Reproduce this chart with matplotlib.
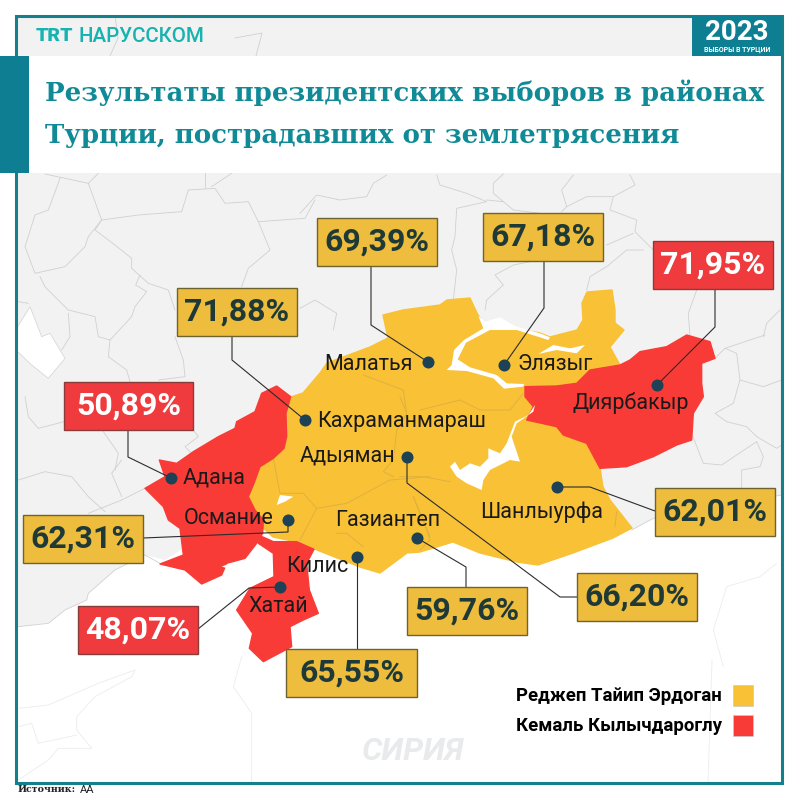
import matplotlib
matplotlib.use('Agg')
import matplotlib.pyplot as plt
from matplotlib.patches import Polygon, Rectangle

plt.rcParams['font.family'] = ['Roboto', 'DejaVu Sans']

YELLOW = '#f8c136'
RED = '#f93b37'
BOX_YELLOW = '#eebd3d'
BOX_RED = '#ef3b3d'
TEAL = '#0e7f93'
DARK = '#1f3a36'

# results, one entry per province
PROVINCES = ['Малатья', 'Элязыг', 'Диярбакыр', 'Кахраманмараш', 'Адана', 'Османие',
             'Хатай', 'Килис', 'Газиантеп', 'Адыяман', 'Шанлыурфа']
PERCENTS = ['69,39%', '67,18%', '71,95%', '71,88%', '50,89%', '62,31%',
            '48,07%', '65,55%', '59,76%', '66,20%', '62,01%']
WINNERS = ['E', 'E', 'K', 'E', 'K', 'E', 'K', 'E', 'E', 'E', 'E']
LEGEND_NAMES = ['Реджеп Тайип Эрдоган', 'Кемаль Кылычдароглу']

# label boxes: left, top, right, bottom in image pixels
BOXES = [(317, 218, 437, 266), (483, 213, 603, 261), (653, 241, 773, 289),
         (177, 288, 297, 336), (64, 382, 193, 430), (23, 515, 143, 563),
         (78, 606, 198, 654), (286, 649, 417, 697), (407, 587, 527, 635),
         (577, 573, 697, 621), (655, 488, 775, 536)]
LEADERS = [[(371, 266), (371, 325), (428, 362)],
           [(544, 261), (544, 308), (504, 365)],
           [(715, 289), (715, 327), (657, 385)],
           [(232, 336), (232, 360), (305, 420)],
           [(128, 430), (128, 457), (171, 478)],
           [(143, 538), (288, 532), (288, 520)],
           [(198, 629), (249, 588), (280, 587)],
           [(357, 648), (357, 557)],
           [(466, 587), (466, 567), (417, 538)],
           [(577, 597), (560, 597), (407, 483), (407, 457)],
           [(655, 511), (590, 487), (557, 487)]]
NAME_POS = [(369, 364, 'center'), (517, 364, 'left'), (631, 403, 'center'), (317, 421, 'left'),
            (183, 478, 'left'), (184, 519, 'left'), (278, 606, 'center'), (317, 566, 'center'),
            (388, 520, 'center'), (347, 456, 'center'), (542, 512, 'center')]


def crop(x0, y0, pts):
    return [(x0 + x / 3, y0 + y / 3) for x, y in pts]


LAND = [(17, 16), (782, 16), (782, 495), (653, 518), (632, 530), (400, 480), (260, 500),
        (165, 560), (145, 555), (115, 570), (88, 593), (87, 600), (65, 610), (48, 623), (17, 627)]
TUZ_LAKE = crop(15, 170, [(8, 470), (45, 410), (80, 500), (105, 490), (150, 565), (100, 625),
                          (50, 585), (8, 545)])

YELLOW_AREA = [(291, 397), (303, 393), (320, 373), (327, 363), (370, 347), (388, 338), (383, 315),
               (403, 310), (440, 305), (447, 300), (470, 298), (477, 313), (485, 327), (513, 328),
               (540, 333), (550, 337), (577, 330), (583, 320), (582, 303), (587, 292), (612, 290),
               (615, 310), (615, 323), (624, 330), (610, 347), (620, 365), (590, 370), (577, 383),
               (557, 387), (525, 387), (525, 397), (533, 407), (527, 420), (557, 427), (563, 435),
               (587, 443), (600, 468), (603, 487), (610, 500), (632, 528), (613, 538), (573, 553),
               (538, 565), (517, 562), (480, 553), (453, 542), (420, 552), (407, 553), (380, 573),
               (360, 567), (317, 550), (297, 542), (273, 537), (263, 528), (255, 510), (248, 497),
               (254, 483), (260, 467), (273, 458), (284, 448), (287, 436), (286, 413)]
ADANA_AREA = crop(130, 280, [(440, 318), (482, 350), (468, 400), (470, 470), (462, 505), (430, 535),
                             (390, 560), (372, 610), (355, 650), (375, 690), (400, 720), (398, 760),
                             (380, 790), (345, 835), (290, 850), (275, 885), (215, 912), (165, 870),
                             (90, 852), (160, 825), (150, 745), (115, 720), (100, 680), (45, 625),
                             (105, 590), (88, 540), (140, 550), (190, 515), (265, 470), (315, 445),
                             (320, 425), (375, 395), (395, 340)])
HATAY_AREA = crop(130, 280, [(385, 765), (430, 785), (500, 785), (552, 808), (530, 850), (538, 930),
                             (565, 1000), (520, 1020), (480, 1040), (485, 1100), (400, 1145),
                             (358, 1105), (368, 1060), (320, 990), (360, 925), (432, 890),
                             (430, 820), (385, 790)])
DIYARBAKIR_AREA = crop(400, 280, [(375, 320), (470, 318), (530, 310), (570, 270), (660, 255),
                                  (690, 240), (720, 215), (800, 200), (860, 165), (930, 185),
                                  (945, 235), (905, 250), (905, 310), (910, 350), (880, 400),
                                  (875, 480), (830, 495), (760, 530), (680, 560), (600, 565),
                                  (560, 490), (490, 465), (470, 440), (380, 420), (400, 380),
                                  (375, 350)])
LAKES = [crop(400, 280, [(235, 108), (255, 125), (300, 112), (345, 138), (420, 160), (450, 172),
                         (445, 180), (350, 150), (270, 150), (198, 188), (173, 238), (210, 262),
                         (290, 285), (320, 310), (372, 312), (370, 320), (312, 326), (280, 295),
                         (200, 273), (140, 270), (155, 255), (162, 210), (192, 180), (250, 145)]),
         crop(400, 280, [(415, 222), (460, 195), (510, 205), (555, 195), (530, 220), (470, 210)]),
         crop(400, 280, [(150, 560), (170, 590), (200, 610), (245, 630), (250, 600), (270, 570),
                         (330, 540), (360, 545), (345, 500), (335, 470), (350, 430), (400, 395),
                         (405, 375), (385, 405), (345, 425), (320, 490), (300, 520), (265, 505),
                         (265, 535), (240, 560), (210, 550), (180, 570), (165, 545)]),
         crop(130, 280, [(440, 675), (450, 645), (490, 650), (465, 665)]),
         crop(130, 280, [(275, 860), (300, 850), (295, 865)])]

GREY_BORDERS = [
    crop(15, 170, [(135, 25), (100, 120), (60, 135), (30, 230), (60, 310), (150, 290), (210, 230),
                   (220, 200), (260, 150)]),
    crop(15, 170, [(90, 12), (220, 40), (260, 150), (240, 180), (300, 225), (350, 265), (350, 295),
                   (400, 340), (460, 360), (480, 420)]),
    crop(15, 170, [(220, 40), (250, 10)]),
    crop(15, 170, [(260, 150), (370, 135), (500, 125), (520, 60), (600, 55), (630, 100), (700, 95),
                   (730, 155), (870, 145), (900, 90)]),
    crop(15, 170, [(730, 155), (765, 240), (700, 295), (680, 350)]),
    crop(15, 170, [(570, 10), (570, 55)]),
    crop(15, 170, [(650, 10), (590, 50)]),
    crop(15, 170, [(75, 320), (90, 350), (160, 420), (240, 440), (250, 500), (285, 510), (280, 560),
                   (335, 600), (345, 635)]),
    crop(15, 170, [(375, 315), (362, 345), (395, 365), (360, 410), (350, 440), (285, 510)]),
    crop(15, 170, [(480, 500), (505, 570), (510, 620), (430, 630)]),
    crop(15, 170, [(40, 400), (10, 395)]),
    crop(15, 170, [(160, 430), (165, 500), (140, 540)]),
    crop(15, 170, [(30, 680), (40, 740), (70, 775), (147, 755)]),
    crop(15, 170, [(535, 780), (550, 800), (510, 830), (530, 850)]),
    crop(15, 170, [(265, 785), (310, 850), (300, 900)]),
    crop(300, 170, [(0, 130), (50, 75), (120, 90), (200, 80), (220, 40), (260, 15)]),
    crop(300, 170, [(410, 15), (420, 45), (500, 70), (560, 95), (470, 115), (465, 200), (455, 240),
                    (470, 300), (460, 390)]),
    crop(300, 170, [(560, 90), (610, 95), (640, 120), (720, 130)]),
    crop(300, 170, [(610, 12), (580, 40), (580, 70), (610, 95)]),
    crop(300, 170, [(820, 15), (785, 60), (800, 110), (785, 125)]),
    crop(300, 170, [(800, 110), (860, 80), (940, 80), (1005, 45), (990, 15)]),
    crop(300, 170, [(940, 80), (930, 120), (1010, 150), (1005, 185), (1060, 240)]),
    crop(300, 170, [(1000, 190), (920, 225)]),
    crop(300, 170, [(1030, 240), (980, 240), (920, 290), (870, 320), (860, 360)]),
    crop(300, 170, [(690, 275), (640, 285), (585, 315), (610, 345), (560, 390), (555, 420)]),
    crop(300, 170, [(1190, 360), (1165, 430), (1170, 500)]),
    crop(300, 170, [(0, 415), (45, 390), (110, 430), (100, 480)]),
    crop(300, 170, [(1440, 420), (1400, 460), (1390, 500)]),
    crop(600, 330, [(345, 85), (375, 55), (410, 70), (420, 150), (490, 170), (545, 150)]),
    crop(600, 330, [(420, 150), (400, 220), (345, 250), (380, 275), (440, 290), (470, 320),
                    (530, 355), (545, 345)]),
    crop(600, 330, [(275, 310), (310, 400), (365, 405), (470, 335), (490, 380), (480, 410),
                    (425, 420), (425, 475)]),
    crop(600, 330, [(375, 55), (495, 15)]),
    crop(15, 460, [(10, 60), (90, 35), (170, 50), (220, 110), (270, 155)]),
    crop(15, 460, [(320, 0), (290, 40), (320, 110)]),
    crop(15, 460, [(220, 160), (320, 120), (390, 85)]),
    crop(15, 460, [(10, 500), (100, 490), (150, 450), (215, 420), (220, 400), (300, 330), (390, 285),
                   (435, 310)]),
    crop(600, 330, [(95, 600), (160, 565), (545, 495)]),
    # strip behind the logo line
    [(115, 16), (118, 38), (110, 56)],
    [(235, 38), (262, 33), (256, 56)],
]
FAINT_BORDERS = [
    crop(15, 460, [(10, 745), (100, 735), (250, 670), (360, 630), (350, 650), (240, 710), (185, 770),
                   (185, 810), (230, 865), (130, 865), (100, 900), (10, 960)]),
    crop(15, 460, [(10, 800), (50, 790), (70, 850), (185, 825)]),
    crop(15, 460, [(680, 590), (655, 680), (710, 760), (710, 965)]),
    crop(600, 330, [(530, 700), (480, 740), (380, 770), (340, 900), (370, 1010)]),
    [(712, 660), (708, 783)],
]
YELLOW_BORDERS = [
    crop(130, 280, [(700, 285), (820, 330), (830, 400), (800, 450), (790, 540), (760, 575), (790, 590)]),
    crop(130, 280, [(430, 535), (450, 640), (520, 640), (560, 685), (510, 780)]),
    crop(130, 280, [(560, 685), (650, 670), (780, 600), (900, 590)]),
    crop(130, 280, [(620, 760), (650, 760), (700, 800)]),
    crop(130, 280, [(850, 650), (870, 700), (900, 770)]),
    crop(400, 280, [(0, 350), (20, 400), (0, 440)]),
    crop(400, 280, [(60, 390), (180, 360), (240, 390), (330, 390), (370, 340)]),
    crop(400, 280, [(0, 590), (70, 590), (150, 605)]),
    crop(400, 280, [(40, 650), (70, 720), (90, 780), (60, 810)]),
    crop(400, 280, [(650, 695), (645, 740)]),
]


def draw_lines(ax, lines, color, lw, z):
    for line in lines:
        ax.plot([p[0] for p in line], [p[1] for p in line], color=color, lw=lw, zorder=z,
                solid_joinstyle='round')


fig = plt.figure(figsize=(8, 8), dpi=100)
ax = fig.add_axes([0, 0, 1, 1])
ax.set_xlim(0, 800)
ax.set_ylim(800, 0)
ax.axis('off')

# map background
ax.add_patch(Polygon(LAND, fc='#f2f2f2', ec='none', zorder=1))
ax.add_patch(Polygon(TUZ_LAKE, fc='white', ec='#d2d2d2', lw=0.5, zorder=2))
draw_lines(ax, GREY_BORDERS, '#d0d0d0', 0.6, 2)
draw_lines(ax, FAINT_BORDERS, '#ececec', 0.6, 2)

# provinces
ax.add_patch(Polygon(YELLOW_AREA, fc=YELLOW, ec=YELLOW, lw=1, joinstyle='round', zorder=3))
draw_lines(ax, YELLOW_BORDERS, '#dfb13f', 0.7, 3.5)
for area in [ADANA_AREA, HATAY_AREA, DIYARBAKIR_AREA]:
    ax.add_patch(Polygon(area, fc=RED, ec=RED, lw=1, joinstyle='round', zorder=4))
for lake in LAKES:
    ax.add_patch(Polygon(lake, fc='white', ec='none', zorder=5))

# header
ax.add_patch(Rectangle((29, 56), 753, 117, fc='white', ec='none', zorder=6))
ax.add_patch(Rectangle((0, 56), 29, 117, fc=TEAL, ec='none', zorder=7))
ax.add_patch(Rectangle((692, 16), 90, 40, fc=TEAL, ec='none', zorder=7))
ax.text(36, 36, 'TRT', fontsize=14, fontweight='black', color='#17b3b0', va='center', zorder=8)
ax.text(78, 36, 'НАРУССКОМ', fontsize=14.8, fontweight='medium', color='#17b3b0', va='center', zorder=8)
ax.text(737, 32, '2023', fontsize=20, fontweight='bold', color='white', ha='center', va='center',
        zorder=8)
ax.text(737, 50, 'ВЫБОРЫ В ТУРЦИИ', fontsize=5, color='white', fontweight='bold', ha='center',
        va='center', zorder=8)
title_font = dict(family='DejaVu Serif', fontsize=18.7, fontweight='bold', color='#0f8a96', va='center',
                  zorder=8)
ax.text(45, 93, 'Результаты президентских выборов в районах', **title_font)
ax.text(45, 135, 'Турции, пострадавших от землетрясения', **title_font)

# leaders, dots, province names
draw_lines(ax, LEADERS, '#2c2c2c', 0.8, 9)
ax.scatter([l[-1][0] for l in LEADERS], [l[-1][1] for l in LEADERS], s=75, color='#1d4256',
           zorder=10, linewidths=0)
for name, (x, y, ha) in zip(PROVINCES, NAME_POS):
    ax.text(x, y, name, fontsize=15.5, color='#1a1a1a', ha=ha, va='center', zorder=11)

# percent boxes
for value, box, winner in zip(PERCENTS, BOXES, WINNERS):
    left, top, right, bottom = box
    red = winner == 'K'
    ax.add_patch(Rectangle((left, top), right - left, bottom - top, fc=BOX_RED if red else BOX_YELLOW,
                           ec='#8c3b3b' if red else '#6e6430', lw=1, zorder=12))
    ax.text((left + right) / 2, (top + bottom) / 2, value, fontsize=23, fontweight='bold',
            color='white' if red else DARK, ha='center', va='center', zorder=13)

# legend
for i, name in enumerate(LEGEND_NAMES):
    y = 696 + i * 30
    ax.text(722, y, name, fontsize=13.4, fontweight='bold', color='black', ha='right', va='center',
            zorder=8)
    ax.add_patch(Rectangle((733, y - 11), 20, 21, fc=[YELLOW, RED][i], ec='#c9c9c9', lw=0.5, zorder=8))

ax.text(413, 751, 'СИРИЯ', fontsize=23, fontweight='bold', style='italic', color='#e8eaec',
        ha='center', va='center', zorder=2)
ax.text(18, 790, 'Источник:', family='DejaVu Serif', fontsize=6.8, fontweight='bold', color='#222',
        va='center')
ax.text(80, 790, 'AA', fontsize=8, color='#222', va='center')

# frame
ax.add_patch(Rectangle((16, 16), 766, 767, fc='none', ec='#15808a', lw=2.2, zorder=6.5))

fig.savefig('out.png', dpi=100)
